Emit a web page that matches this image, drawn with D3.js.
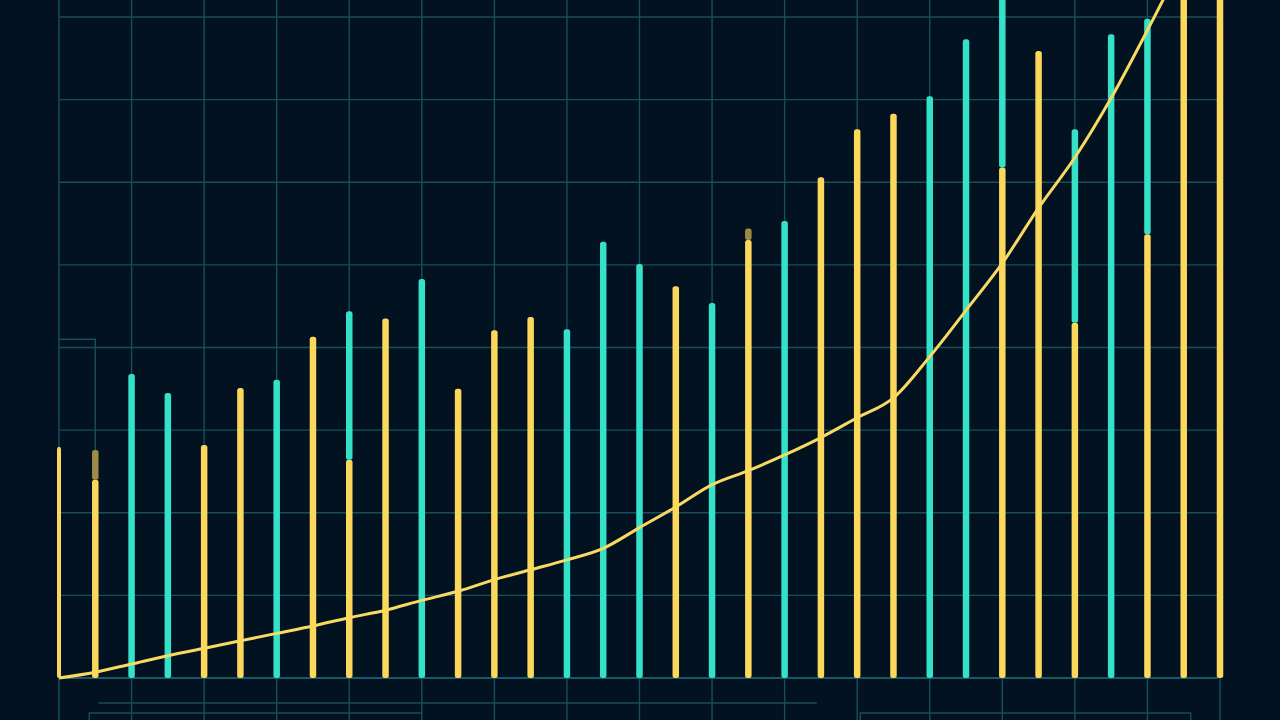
<!DOCTYPE html>
<html>
<head>
<meta charset="utf-8">
<script src="https://cdn.jsdelivr.net/npm/d3@7"></script>
<style>
  html, body { margin: 0; padding: 0; background: #031220; }
  svg { display: block; }
</style>
</head>
<body>
<svg id="chart" width="1280" height="720"></svg>
<script>
// ---- data (one bar per period) ----
const periods = d3.range(33).map(i => "P" + (i + 1));
const yellowValues = [2.80, 2.40, 0, 0, 2.82, 3.51, 0, 4.13, 2.64, 4.35, 0, 3.50, 4.21, 4.37, 0, 0, 0, 4.74, 0, 5.30, 0, 6.06, 6.64, 6.83, 0, 0, 6.18, 7.59, 4.30, 0, 5.37, 8.80, 8.80];
const tealValues   = [0, 0, 3.68, 3.45, 0, 0, 3.61, 0, 1.80, 0, 4.83, 0, 0, 0, 4.22, 5.28, 5.01, 0, 4.54, 0, 5.53, 0, 0, 0, 7.04, 7.73, 2.62, 0, 2.34, 7.79, 2.61, 0, 0];
const faintValues  = [0, 0.36, 0, 0, 0, 0, 0, 0, 0, 0, 0, 0, 0, 0, 0, 0, 0, 0, 0, 0.14, 0, 0, 0, 0, 0, 0, 0, 0, 0, 0, 0, 0, 0];
const trendValues  = [0, 0.07, 0.17, 0.27, 0.36, 0.45, 0.54, 0.63, 0.73, 0.82, 0.94, 1.05, 1.19, 1.31, 1.43, 1.57, 1.82, 2.07, 2.34, 2.51, 2.70, 2.91, 3.15, 3.39, 3.89, 4.45, 5.02, 5.69, 6.30, 7.02, 7.84, 8.70];
const gridTicks = [0, 1, 2, 3, 4, 5, 6, 7, 8];

// ---- layout ----
const W = 1280, H = 720;
const svg = d3.select("#chart");
const x = d3.scalePoint().domain(periods).range([59, 1220]);
const y = d3.scaleLinear().domain([0, 8]).range([678, 17]);

const gridColor = "#164f5b";
const teal = "#35e2c9";
const yellow = "#fbd85c";

svg.append("rect").attr("width", W).attr("height", H).attr("fill", "#031220");

const grid = svg.append("g").attr("stroke", gridColor).attr("stroke-width", 1.4).attr("fill", "none");

// horizontal grid lines
grid.selectAll("line.h").data(gridTicks).join("line")
  .attr("class", "h")
  .attr("x1", x(periods[0])).attr("x2", x(periods[32]) - 2)
  .attr("y1", d => y(d)).attr("y2", d => y(d))
  .attr("stroke", d => d === 0 ? "#24707c" : gridColor);

// vertical grid lines (every second period)
const vPeriods = periods.filter((p, i) => i % 2 === 0);
grid.selectAll("line.v").data(vPeriods).join("line")
  .attr("class", "v")
  .attr("x1", d => x(d)).attr("x2", d => x(d))
  .attr("y1", 0).attr("y2", H);

// decorative frame pieces
const p = i => x(periods[i]);
grid.append("path").attr("d", `M${p(0)},${y(4.1)} H${p(1)} V${y(2.76)}`);
grid.append("path").attr("d", `M${p(1) - 6},${H} V${713} H${p(10)}`);
grid.append("line").attr("x1", p(1) + 3).attr("x2", p(21) - 4).attr("y1", 703).attr("y2", 703);
grid.append("path").attr("d", `M${p(22) + 3},${H} V${713} H${p(31) + 7} V${H}`);

// ---- stacked bars ----
const rows = periods.map((k, i) => ({ key: k, yellow: yellowValues[i], teal: tealValues[i], faint: faintValues[i] }));
const stack = d3.stack().keys(["yellow", "faint", "teal"]);
const series = stack(rows);
const barW = 6.5;
const fills = { yellow: yellow, faint: "#9c8a45", teal: teal };

svg.append("g").selectAll("g").data(series).join("g")
  .attr("fill", s => fills[s.key])
  .selectAll("rect").data(s => s.filter(d => d[1] - d[0] > 0)).join("rect")
  .attr("x", d => x(d.data.key) - (d.data.key === periods[0] ? 2 : barW / 2))
  .attr("width", d => d.data.key === periods[0] ? 4 : barW)
  .attr("y", d => y(d[1]))
  .attr("height", d => y(d[0]) - y(d[1]))
  .attr("rx", 2.5);

// ---- trend line ----
const line = d3.line()
  .x((d, i) => x(periods[i]))
  .y(d => y(d))
  .curve(d3.curveMonotoneX);

svg.append("path")
  .datum(trendValues)
  .attr("fill", "none")
  .attr("stroke", "#f8da62")
  .attr("stroke-width", 3)
  .attr("d", line);
</script>
</body>
</html>
